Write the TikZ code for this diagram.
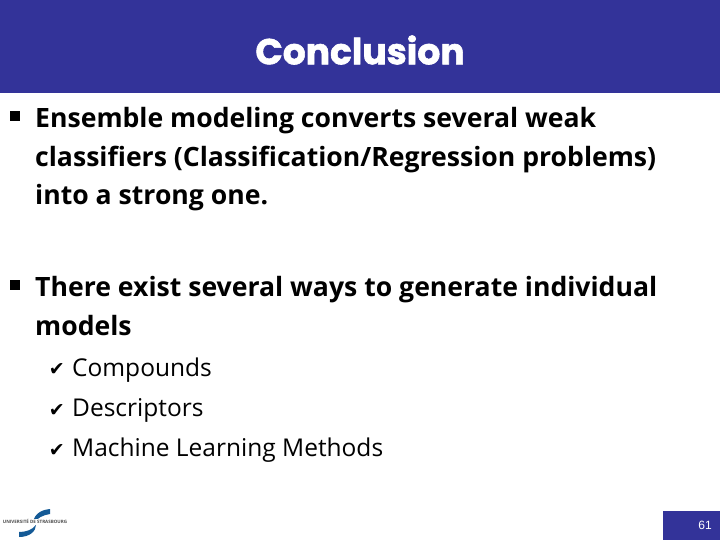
\documentclass[tikz,border=0pt]{standalone}
\usepackage{fontspec}
\setmainfont{Open Sans}
\newfontfamily\titlefont[BoldFeatures={FakeBold=1.6}]{Poppins}
\newfontfamily\symfont{DejaVu Sans}
\newfontfamily\pagefont{Liberation Sans}
\usetikzlibrary{positioning}
\definecolor{barblue}{RGB}{51,51,153}
\definecolor{logoblue}{RGB}{20,90,150}
\tikzset{
  bigtext/.style={anchor=north west,inner sep=0pt,align=left,font=\fontsize{26.6}{38.5}\selectfont\bfseries},
  smalltext/.style={anchor=west,inner sep=0pt,font=\fontsize{24.5}{28}\selectfont},
  squaremark/.style={fill=black,inner sep=0pt,minimum size=10pt},
  checkmark/.style={inner sep=0pt,font=\symfont\fontsize{19}{19}\selectfont}
}
\begin{document}
\begin{tikzpicture}[x=1pt,y=-1pt]
\useasboundingbox (0,0) rectangle (720,540);
\fill[barblue] (0,0) rectangle (720,93);
\node[text=white,inner sep=0pt,font=\titlefont\fontsize{36}{40}\selectfont\bfseries] (title) at (360,50) {Conclusion};
\node[bigtext] (first) at (35,107.5) {Ensemble modeling converts several weak\\classifiers (Classification/Regression problems)\\into a strong one.};
\node[bigtext] (second) at (35,276.5) {There exist several ways to generate individual\\models};
\node[squaremark] (markone) at (15,116) {};
\node[squaremark] (marktwo) at (15,285) {};
\node[smalltext] (compounds) at (72,370) {Compounds};
\node[smalltext] (descriptors) at (72,410.5) {Descriptors};
\node[smalltext] (methods) at (72,450.5) {Machine Learning Methods};
\node[checkmark,left=7pt of compounds] (checkone) {✔};
\node[checkmark,left=7pt of descriptors] (checktwo) {✔};
\node[checkmark,left=7pt of methods] (checkthree) {✔};
% logo
\fill[logoblue] (50,509) .. controls (38,510) and (33,517) .. (33,524) .. controls (37,518) and (43,515) .. (50,514) -- cycle;
\fill[logoblue] (19,537) .. controls (30,537) and (36,531) .. (36,525) .. controls (32,530) and (26,532) .. (19,532) -- cycle;
\node[inner sep=0pt,fill=white,font=\fontsize{4.5}{5}\selectfont\bfseries,text=black!70] (logotext) at (35,521.5) {UNIVERSITÉ DE STRASBOURG};
\node[fill=barblue,text=white,minimum width=57pt,minimum height=29pt,inner sep=0pt,font=\pagefont\fontsize{12}{14}\selectfont] (pagenum) at (691.5,525.5) {\hspace*{27pt}61};
\end{tikzpicture}
\end{document}
